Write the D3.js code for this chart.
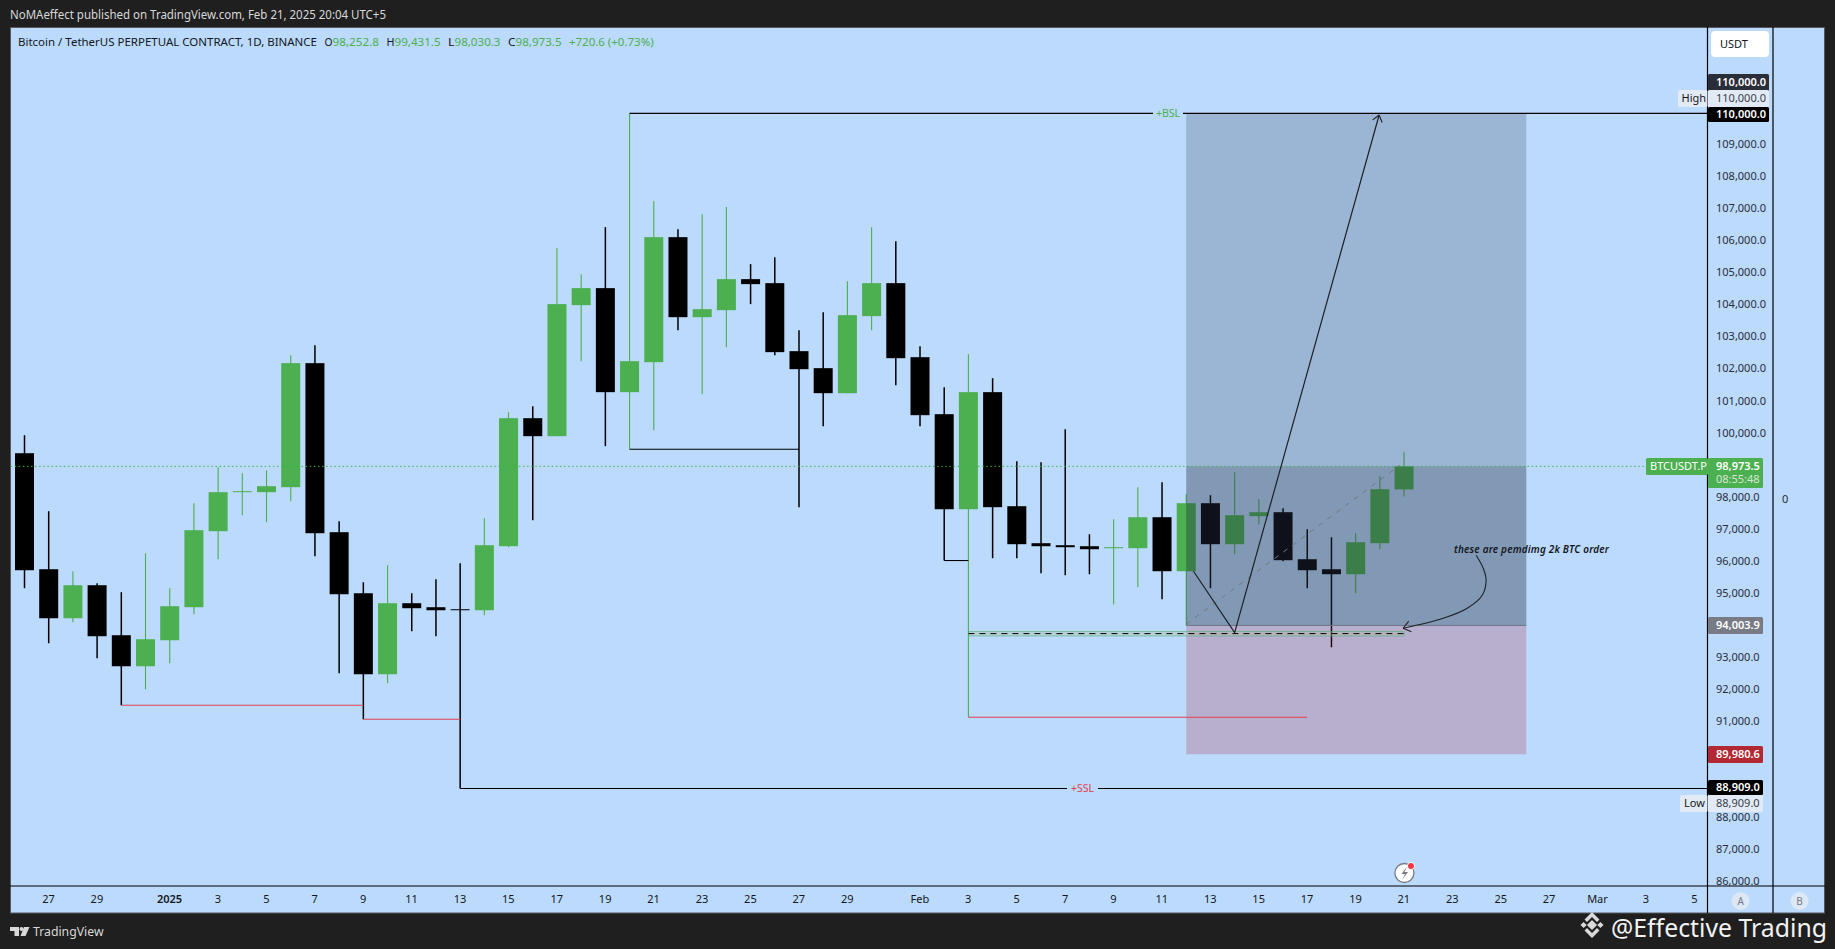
<!DOCTYPE html>
<html>
<head>
<meta charset="utf-8">
<title>BTCUSDT.P</title>
<script src="https://cdn.jsdelivr.net/npm/d3@7"></script>
<style>
    html, body { margin: 0; padding: 0; background: #1f1f1f; overflow: hidden; }
    svg { display: block; }
    text { font-family: "Noto Sans", sans-serif; }
</style>
</head>
<body>
<svg id="chart" width="1835" height="949"></svg>
<script>
// daily candles, Dec 26 2024 (index 0) to Feb 21 2025 (index 57)
const opens = [99384, 95759, 94228, 95259, 93697, 92728, 93541, 94572, 96947, 98166, 98166, 98322, 102197, 96916, 95009, 92478, 94697, 94572, 94509, 94478, 96478, 100478, 99916, 104009, 104541, 101291, 102228, 106134, 103634, 103853, 104822, 104697, 102572, 102041, 101259, 103666, 104697, 102384, 100603, 97634, 101291, 97728, 96572, 96509, 96478, 96416, 96416, 97384, 95697, 97822, 96541, 97416, 97541, 96072, 95759, 95603, 96572, 98252.8];
const highs = [99947, 97572, 95697, 95322, 95041, 96259, 95166, 97822, 98947, 98759, 98853, 102447, 102759, 97259, 95353, 95884, 95009, 95447, 95947, 97353, 100666, 100853, 105791, 104978, 106447, 110000, 107259, 106384, 106853, 107072, 105291, 105509, 103228, 103791, 104759, 106447, 106009, 102728, 101447, 102478, 101728, 99134, 99103, 100134, 96853, 97322, 98322, 98478, 98103, 98072, 98791, 97947, 97666, 97009, 96759, 96884, 98666, 99431.5];
const lows = [95166, 93447, 94103, 92978, 91509, 92009, 92822, 94353, 96072, 97447, 97228, 97884, 96166, 92509, 91072, 92197, 93822, 93666, 88909, 94322, 96447, 97291, 99916, 102259, 99603, 99509, 100103, 103228, 101228, 102697, 104041, 102447, 97697, 100228, 101259, 103228, 101509, 100228, 96031, 91134, 96103, 96103, 95634, 95572, 95603, 94666, 95197, 94822, 94009, 95166, 96228, 97166, 96009, 95166, 93322, 95009, 96384, 98030.3];
const closes = [95728, 94228, 95259, 93666, 92728, 93572, 94603, 96978, 98166, 98197, 98353, 102197, 96884, 94978, 92478, 94697, 94541, 94478, 94478, 96509, 100478, 99916, 104041, 104541, 101291, 102259, 106134, 103634, 103884, 104822, 104666, 102541, 102009, 101259, 103697, 104697, 102353, 100572, 97634, 101291, 97697, 96541, 96478, 96447, 96384, 96447, 97384, 95697, 97822, 96541, 97447, 97541, 96041, 95728, 95603, 96603, 98259, 98973.5];

// time axis: day index and its label
const timeTicks = [1, 3, 6, 8, 10, 12, 14, 16, 18, 20, 22, 24, 26, 28, 30, 32, 34, 37, 39, 41, 43, 45, 47, 49, 51, 53, 55, 57, 59, 61, 63, 65, 67, 69];
const timeLabels = ['27', '29', '2025', '3', '5', '7', '9', '11', '13', '15', '17', '19', '21', '23', '25', '27', '29', 'Feb', '3', '5', '7', '9', '11', '13', '15', '17', '19', '21', '23', '25', '27', 'Mar', '3', '5'];
// the round prices hidden behind the tags are left out
const priceTicks = [86000, 87000, 88000, 91000, 92000, 93000, 95000, 96000, 97000, 98000, 100000, 101000, 102000, 103000, 104000, 105000, 106000, 107000, 108000, 109000];

// drawings on the chart
const lastPrice = 98973.5;
const bslPrice = 110000;
const sslPrice = 88909;
const entryPrice = 94003.9;
const stopPrice = 89980.6;
const positionDays = [48, 62.05];
const redLevels = [[4, 14, 91509], [14, 18, 91072], [39, 53, 91134]];
const blackLevels = [[25, 32, 99509], [38, 39, 96031]];
const orderBox = [39, 57, 93815, 93675];
const orderLine = [39, 57, 93748];
const tradePath = [[48.3, 95697], [50, 93781], [55.97, 109950]];
const dashedPath = [[48, 94040], [56.83, 99010]];
const curvePath = [[59.98, 96197], [60.27, 95791], [60.39, 95416], [60.23, 94947], [59.61, 94541], [58.62, 94228], [56.96, 93916]];

const svg = d3.select('#chart');

const plot = { left: 10.5, right: 1707.5, top: 27.5, bottom: 886 };
const x = d3.scaleLinear().domain([0, 69]).range([24.5, 1694.5]);
const y = d3.scaleLinear().domain([86000, 110000]).range([881.6, 113.4]);

const green = '#4caf50';
const red = '#e0404e';
const ink = '#131722';

// panel background and frame
svg.append('rect').attr('x', 10.5).attr('y', 27.5).attr('width', 1814).attr('height', 885.5)
    .attr('fill', '#bbdafc').attr('stroke', '#55585f');

// candles
const candles = svg.append('g').selectAll('g')
    .data(opens.map((o, i) => ({ i, o, h: highs[i], l: lows[i], c: closes[i] })))
    .enter().append('g');

candles.append('line')
    .attr('x1', d => x(d.i)).attr('x2', d => x(d.i))
    .attr('y1', d => y(d.h)).attr('y2', d => y(d.l))
    .attr('stroke', d => d.c >= d.o ? green : '#000')
    .attr('stroke-width', d => d.c >= d.o ? 1.1 : 1.5);

candles.append('rect')
    .attr('x', d => x(d.i) - 9.5).attr('width', 19)
    .attr('y', d => y(Math.max(d.o, d.c)))
    .attr('height', d => Math.max(1, Math.abs(y(d.o) - y(d.c))))
    .attr('fill', d => d.c >= d.o ? green : '#000');

// long position zones, on top of the candles
const zoneLeft = x(positionDays[0]);
const zoneWidth = x(positionDays[1]) - zoneLeft;
const zones = [
    [bslPrice, entryPrice, 'rgba(40,47,66,0.21)'],
    [lastPrice, entryPrice, 'rgba(40,47,66,0.21)'],
    [entryPrice, stopPrice, 'rgba(173,23,52,0.22)']
];
svg.append('g').selectAll('rect').data(zones).enter().append('rect')
    .attr('x', zoneLeft).attr('width', zoneWidth)
    .attr('y', d => y(d[0])).attr('height', d => y(d[1]) - y(d[0]))
    .attr('fill', d => d[2]);
svg.append('line').attr('x1', zoneLeft).attr('x2', zoneLeft + zoneWidth)
    .attr('y1', y(entryPrice)).attr('y2', y(entryPrice))
    .attr('stroke', '#6b7488').attr('stroke-width', 1);

// last price line
svg.append('line').attr('x1', plot.left).attr('x2', plot.right)
    .attr('y1', y(lastPrice)).attr('y2', y(lastPrice))
    .attr('stroke', '#3fb53f').attr('stroke-width', 1).attr('stroke-dasharray', '1.5 2.6');

// order box
svg.append('rect')
    .attr('x', x(orderBox[0])).attr('width', x(orderBox[1]) - x(orderBox[0]))
    .attr('y', y(orderBox[2])).attr('height', y(orderBox[3]) - y(orderBox[2]))
    .attr('fill', 'rgba(170,190,150,0.35)').attr('stroke', 'rgba(76,175,110,0.6)').attr('stroke-width', 0.9);
svg.append('line').attr('x1', x(orderLine[0])).attr('x2', x(orderLine[1]))
    .attr('y1', y(orderLine[2])).attr('y2', y(orderLine[2]))
    .attr('stroke', '#000').attr('stroke-width', 1).attr('stroke-dasharray', '6 5');

// horizontal levels
function level(from, to, price, colour) {
    svg.append('line').attr('x1', x(from)).attr('x2', x(to))
        .attr('y1', y(price)).attr('y2', y(price))
        .attr('stroke', colour).attr('stroke-width', colour === '#000' ? 1.1 : 1.1);
}
redLevels.forEach(d => level(d[0], d[1], d[2], red));
blackLevels.forEach(d => level(d[0], d[1], d[2], '#000'));

// +BSL and +SSL with their label gaps
svg.append('line').attr('x1', x(25)).attr('x2', 1153).attr('y1', y(bslPrice)).attr('y2', y(bslPrice)).attr('stroke', '#000').attr('stroke-width', 1.1);
svg.append('line').attr('x1', 1183).attr('x2', plot.right).attr('y1', y(bslPrice)).attr('y2', y(bslPrice)).attr('stroke', '#000').attr('stroke-width', 1.1);
svg.append('line').attr('x1', x(18)).attr('x2', 1067).attr('y1', y(sslPrice)).attr('y2', y(sslPrice)).attr('stroke', '#000').attr('stroke-width', 1.1);
svg.append('line').attr('x1', 1098).attr('x2', plot.right).attr('y1', y(sslPrice)).attr('y2', y(sslPrice)).attr('stroke', '#000').attr('stroke-width', 1.1);
svg.append('text').attr('x', 1168).attr('y', y(bslPrice)).attr('dy', '0.35em').attr('text-anchor', 'middle')
    .attr('font-size', 10.5).attr('fill', green).text('+BSL');
svg.append('text').attr('x', 1082.5).attr('y', y(sslPrice)).attr('dy', '0.35em').attr('text-anchor', 'middle')
    .attr('font-size', 10.5).attr('fill', red).text('+SSL');

// paths
const linePath = d3.line().x(d => x(d[0])).y(d => y(d[1]));
svg.append('path').attr('d', linePath(dashedPath)).attr('fill', 'none')
    .attr('stroke', '#6f7680').attr('stroke-width', 1).attr('stroke-dasharray', '5 6');
svg.append('path').attr('d', linePath(tradePath)).attr('fill', 'none')
    .attr('stroke', '#1c2026').attr('stroke-width', 1.2);
const curveLine = d3.line().x(d => x(d[0])).y(d => y(d[1])).curve(d3.curveCatmullRom);
svg.append('path').attr('d', curveLine(curvePath)).attr('fill', 'none')
    .attr('stroke', '#1c2026').attr('stroke-width', 1.1);

function arrowHead(from, to, size) {
    const px = x(to[0]), py = y(to[1]);
    const angle = Math.atan2(py - y(from[1]), px - x(from[0]));
    [-0.65, 0.65].forEach(turn => {
        svg.append('line').attr('x1', px).attr('y1', py)
            .attr('x2', px - size * Math.cos(angle + turn))
            .attr('y2', py - size * Math.sin(angle + turn))
            .attr('stroke', '#1c2026').attr('stroke-width', 1.1);
    });
}
arrowHead(tradePath[1], tradePath[2], 8);
arrowHead(curvePath[5], curvePath[6], 9);

svg.append('text').attr('x', 1454).attr('y', 549).attr('dy', '0.35em')
    .attr('textLength', 155).attr('font-size', 10).attr('font-style', 'italic').attr('font-weight', 600).attr('font-family', '"Open Sans"')
    .attr('fill', '#131722').text('these are pemdimg 2k BTC order');

// axis lines
svg.append('line').attr('x1', 10).attr('x2', 1825).attr('y1', plot.bottom).attr('y2', plot.bottom).attr('stroke', '#000').attr('stroke-width', 1.2);
[1707.5, 1773].forEach(px => {
    svg.append('line').attr('x1', px).attr('x2', px).attr('y1', 27).attr('y2', 913).attr('stroke', '#000').attr('stroke-width', 1.2);
});

// time axis
const timeAxis = d3.axisBottom(x).tickValues(timeTicks).tickSize(0).tickPadding(9)
    .tickFormat((d, i) => timeLabels[i]);
const timeG = svg.append('g').attr('transform', `translate(-0.7,${plot.bottom})`).call(timeAxis);
timeG.select('.domain').remove();
timeG.selectAll('text').attr('font-size', 11).attr('fill', ink).attr('font-family', '"Noto Sans", sans-serif')
    .attr('font-weight', d => d === 6 ? 600 : 400);

// price axis
const priceAxis = d3.axisRight(y).tickValues(priceTicks).tickSize(0).tickPadding(0)
    .tickFormat(d => d3.format(',.1f')(d));
const priceG = svg.append('g').attr('transform', 'translate(1716,-1)').call(priceAxis);
priceG.select('.domain').remove();
priceG.selectAll('text').attr('font-size', 11).attr('fill', '#2a2e39').attr('font-family', '"Noto Sans", sans-serif');

// price tags
function tag(x0, x1, y0, y1, fill, label, colour, bold, tx, ty) {
    svg.append('rect').attr('x', x0).attr('y', y0).attr('width', x1 - x0).attr('height', y1 - y0)
        .attr('rx', 1.5).attr('fill', fill);
    svg.append('text').attr('x', tx).attr('y', ty || (y0 + y1) / 2).attr('dy', '0.35em')
        .attr('font-size', 11).attr('font-weight', bold ? 600 : 400).attr('fill', colour).text(label);
}
tag(1708, 1769, 74, 91, '#2a2e39', '110,000.0', '#fff', true, 1716);
tag(1678, 1707.5, 90, 107, '#e2ebf5', 'High', ink, false, 1681.5);
tag(1708, 1769, 90, 107, '#e2ebf5', '110,000.0', '#3a3e49', false, 1716);
tag(1708, 1769, 107, 122, '#000', '110,000.0', '#fff', true, 1716);
tag(1646, 1708, 458, 475, green, 'BTCUSDT.P', '#fff', false, 1650);
tag(1708, 1763, 458, 488, green, '98,973.5', '#fff', true, 1716, 466.5);
svg.append('text').attr('x', 1716).attr('y', 479).attr('dy', '0.35em').attr('font-size', 11)
    .attr('fill', '#d6e8d6').text('08:55:48');
tag(1708, 1763, 617, 634, '#787b86', '94,003.9', '#fff', true, 1716);
tag(1708, 1763, 746, 763, '#b22833', '89,980.6', '#fff', true, 1716);
tag(1708, 1763, 780, 795, '#000', '88,909.0', '#fff', true, 1716);
tag(1680, 1707.5, 795, 812, '#e2ebf5', 'Low', ink, false, 1684);
tag(1708, 1763, 795, 812, '#e2ebf5', '88,909.0', '#3a3e49', false, 1716);

// USDT button
svg.append('rect').attr('x', 1711).attr('y', 31).attr('width', 58).attr('height', 26).attr('rx', 4).attr('fill', '#fff');
svg.append('text').attr('x', 1720).attr('y', 44).attr('dy', '0.35em').attr('font-size', 11).attr('fill', ink).text('USDT');

// second price scale
svg.append('text').attr('x', 1782).attr('y', 499).attr('dy', '0.35em').attr('font-size', 11).attr('fill', '#2a2e39').text('0');
[[1740.6, 'A'], [1799.6, 'B']].forEach(d => {
    svg.append('circle').attr('cx', d[0]).attr('cy', 901).attr('r', 9).attr('fill', '#dce8f5');
    svg.append('text').attr('x', d[0]).attr('y', 901).attr('dy', '0.35em').attr('text-anchor', 'middle')
        .attr('font-size', 10).attr('fill', '#787b86').text(d[1]);
});

// lightning icon
svg.append('circle').attr('cx', 1404.4).attr('cy', 873).attr('r', 9.5).attr('fill', '#fff').attr('stroke', '#787b86').attr('stroke-width', 1.3);
svg.append('path').attr('d', 'M1407 866.5 L1401.5 874 L1405 874 L1402 880 L1408 872 L1404.5 872 Z').attr('fill', '#787b86');
svg.append('circle').attr('cx', 1411).attr('cy', 866).attr('r', 3.6).attr('fill', '#f23645').attr('stroke', '#fff').attr('stroke-width', 1);

// header and legend
svg.append('text').attr('x', 10).attr('y', 15).attr('dy', '0.35em').attr('textLength', 376).attr('lengthAdjust', 'spacingAndGlyphs')
    .attr('font-size', 12).attr('fill', '#d8d8d8').text('NoMAeffect published on TradingView.com, Feb 21, 2025 20:04 UTC+5');

function legend(px, width, label, colour) {
    svg.append('text').attr('x', px).attr('y', 41.5).attr('dy', '0.35em').attr('textLength', width).attr('lengthAdjust', 'spacingAndGlyphs')
        .attr('font-size', 11.5).attr('fill', colour).text(label);
}
legend(18, 299, 'Bitcoin / TetherUS PERPETUAL CONTRACT, 1D, BINANCE', ink);
legend(324.5, 8, 'O', ink);
legend(332.6, 46.4, '98,252.8', green);
legend(386.6, 8, 'H', ink);
legend(394.6, 46, '99,431.5', green);
legend(448, 6.5, 'L', ink);
legend(454.5, 46, '98,030.3', green);
legend(508, 7.5, 'C', ink);
legend(515.6, 46, '98,973.5', green);
legend(569, 84.6, '+720.6 (+0.73%)', green);

// TradingView logo
svg.append('path').attr('d', 'M10 927 H19 V936 H14.5 V931 H10 Z M24 927 H29.5 L25.5 936 H20.5 Z').attr('fill', '#d8d8d8');
svg.append('circle').attr('cx', 21.5).attr('cy', 929).attr('r', 2).attr('fill', '#d8d8d8');
svg.append('text').attr('x', 33).attr('y', 931.5).attr('dy', '0.35em').attr('textLength', 70.6).attr('lengthAdjust', 'spacingAndGlyphs')
    .attr('font-size', 13).attr('fill', '#d8d8d8').text('TradingView');

// watermark
const mark = svg.append('g').attr('transform', 'translate(1592,925)').attr('fill', '#d9d9d9');
[[0, 0, 3.6], [-8.4, 0, 2.2], [8.4, 0, 2.2]].forEach(d => {
    mark.append('rect').attr('x', d[0] - d[2]).attr('y', d[1] - d[2]).attr('width', d[2] * 2).attr('height', d[2] * 2)
        .attr('transform', `rotate(45 ${d[0]} ${d[1]})`);
});
mark.append('path').attr('d', 'M0 -13 L7.5 -5.5 L5 -3 L0 -8 L-5 -3 L-7.5 -5.5 Z M0 13 L7.5 5.5 L5 3 L0 8 L-5 3 L-7.5 5.5 Z');
svg.append('text').attr('x', 1611).attr('y', 928).attr('dy', '0.35em').attr('textLength', 216).attr('lengthAdjust', 'spacingAndGlyphs')
    .attr('font-size', 25).attr('font-family', '"DejaVu Sans"').attr('fill', '#f2f2f2').text('@Effective Trading');
</script>
</body>
</html>
